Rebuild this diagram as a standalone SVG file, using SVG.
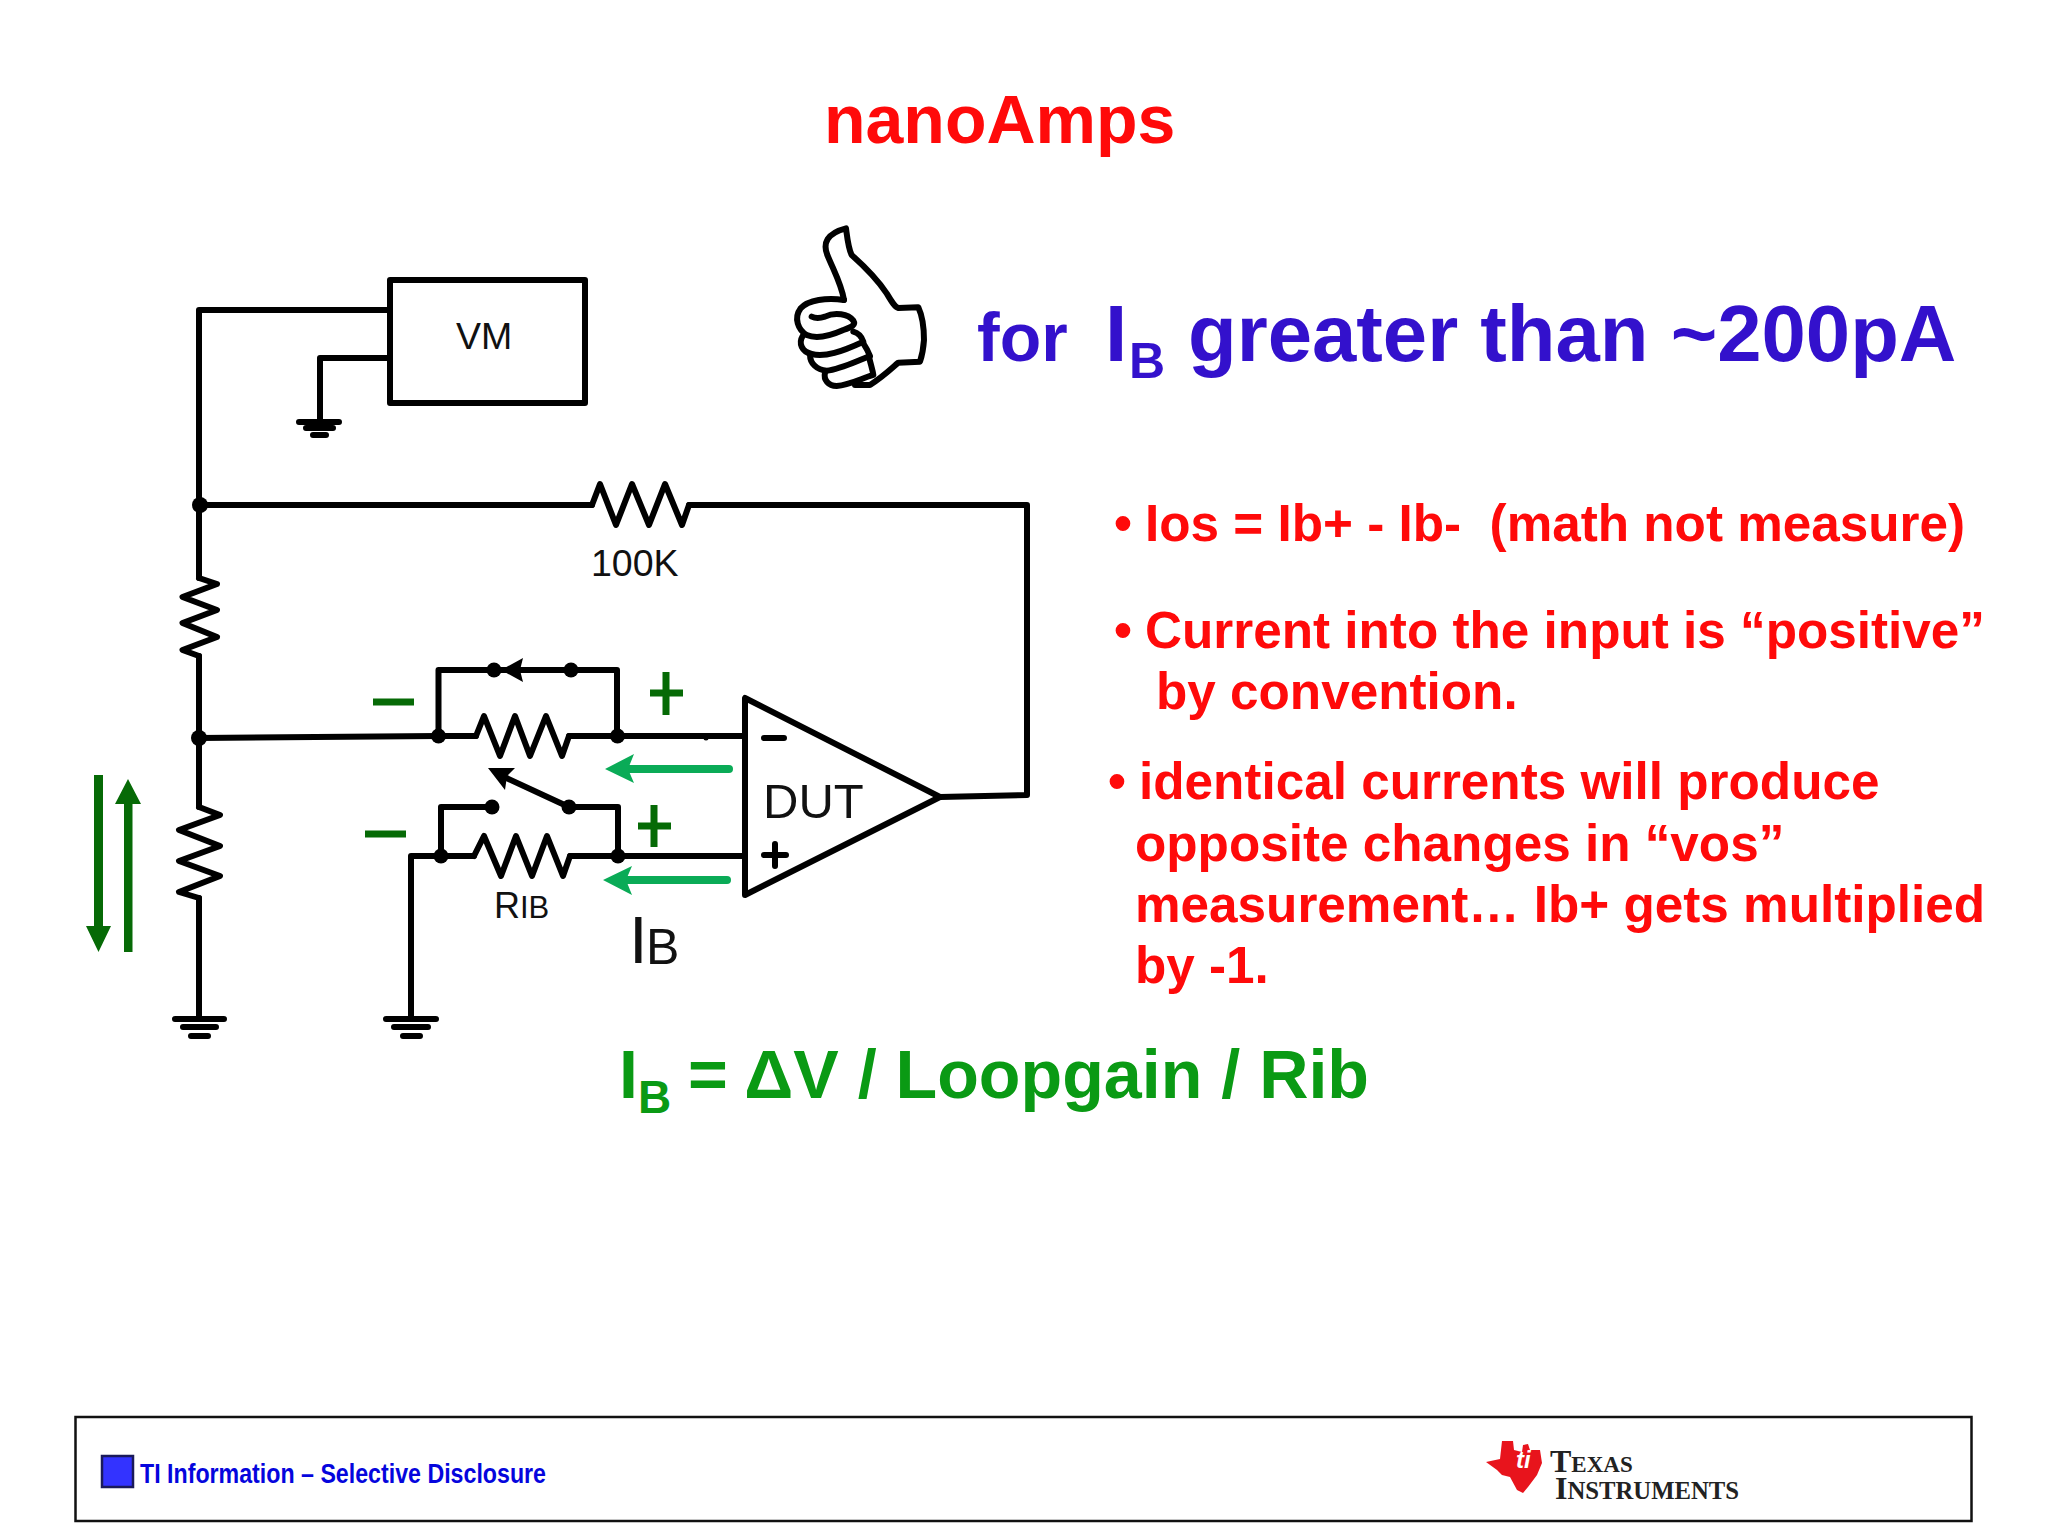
<svg xmlns="http://www.w3.org/2000/svg" width="2048" height="1536" viewBox="0 0 2048 1536">
<style>
.w{fill:none;stroke:#000;stroke-width:6;stroke-linejoin:round;stroke-linecap:round}
.g{fill:none;stroke:#000;stroke-width:6;stroke-linecap:round}
.d{fill:#000}
.dg{fill:none;stroke:#066a06;stroke-width:7}
.ga{fill:#0aab57;stroke:none}
.gl{fill:none;stroke:#0aab57;stroke-width:8;stroke-linecap:round}
.da{fill:#066a06}
text{font-family:"Liberation Sans",Arial,sans-serif}
.b{font-weight:bold}
.r{fill:#ff0a0a;font-size:51.250px;font-weight:bold;white-space:pre}
.bl{fill:#3311cc;font-weight:bold}
.gr{fill:#0a9a14;font-weight:bold}
.k{fill:#111}
.s{font-family:"Liberation Serif","Times New Roman",serif;fill:#222;font-weight:bold}
</style>
<rect width="2048" height="1536" fill="#fff"/>
<g id="title"><text class="b" x="824" y="143" font-size="68" fill="#ff0a0a">nanoAmps</text></g>
<g id="thumb" transform="translate(770 210) scale(.3333)" fill="none" stroke="#000" stroke-width="18" stroke-linejoin="round" stroke-linecap="round">
<path d="M222 270C215 225 195 190 172 135C158 100 170 70 228 55C232 85 235 115 245 135C290 175 330 220 350 250C365 275 375 292 385 294L445 292C458 320 462 360 462 390C460 420 455 440 450 455L385 458C365 475 340 500 300 525L255 525"/>
<path d="M222 270C170 262 115 270 92 295C70 325 85 360 110 375C140 388 175 380 220 360C245 352 258 345 250 332C235 312 195 305 165 320C150 325 135 325 125 320"/>
<path d="M98 378C85 400 95 425 125 432C165 442 215 425 280 395C275 380 268 370 250 365"/>
<path d="M120 435C120 460 140 480 170 482C210 478 255 455 300 438C295 425 290 415 280 400"/>
<path d="M165 488C160 510 175 528 200 528C240 525 275 505 310 495C308 480 304 470 298 445"/>
</g>
<g id="heading">
<text class="bl" x="977" y="361" font-size="68">for</text>
<text class="bl" x="1105" y="361" font-size="80">I</text>
<text class="bl" x="1129" y="378" font-size="50">B</text>
<text class="bl" x="1188" y="361" font-size="79.700">greater than ~200pA</text>
</g>
<g id="connectors">
<path class="w" d="M390 310H199V578"/>
<path class="w" d="M199 656V807"/>
<path class="w" d="M199 898V1019"/>
<path class="w" d="M390 358H320V422"/>
<path class="w" d="M199 505H592"/>
<path class="w" d="M689 505H1027V795L940 797"/>
<path class="w" d="M199 738L438 736H476"/>
<path class="w" d="M438.500 736V670H617V736"/>
<path class="w" d="M569 736H745"/>
<path class="w" d="M411 1019V856H474"/>
<path class="w" d="M441 856V807H492"/>
<path class="w" d="M569 807H618V856"/>
<path class="w" d="M570 856H745"/>
<path class="w" d="M569 807L500 775"/>
</g>
<g id="resistor-100k"><polyline class="w" points="592,505 600,484 616,525 632,484 649,525 665,484 682,525 689,505"/><text class="k" x="591" y="576" font-size="37.500">100K</text></g>
<g id="resistor-upper"><polyline class="w" points="199,578 217,584 182.500,597 217,610 182.500,623 217,637 182.500,650 199,656"/></g>
<g id="resistor-lower"><polyline class="w" points="199,807 220,815 179,830 220,846 179,861 220,876 179,892 199,898"/></g>
<g id="resistor-top"><polyline class="w" points="476,736 484,716 500,756 515,716 530,756 546,716 562,756 569,736"/></g>
<g id="resistor-rib"><polyline class="w" points="474,856 484,836 501,876 516,836 532,876 547,836 563,876 570,856"/>
<text class="k" x="494" y="918" font-size="36">R<tspan font-size="31">IB</tspan></text></g>
<g id="junctions">
<circle class="d" cx="200" cy="505" r="8"/><circle class="d" cx="199" cy="738" r="8"/>
<circle class="d" cx="438.500" cy="736" r="7.500"/><circle class="d" cx="617.500" cy="736" r="7.500"/>
<circle class="d" cx="441" cy="856" r="7.500"/><circle class="d" cx="618" cy="856" r="7.500"/>
<circle class="d" cx="494" cy="670" r="7.500"/><circle class="d" cx="571" cy="670" r="7.500"/>
<circle class="d" cx="492" cy="807" r="7.500"/><circle class="d" cx="569" cy="807" r="7.500"/>
<circle class="d" cx="706" cy="738" r="2.500"/>
<polygon class="d" points="501,670 523,658 520,670 523,682"/>
<polygon class="d" points="488,768 515,768 507,776 505,790"/>
</g>
<g id="vm"><rect class="w" x="390" y="280" width="195" height="123"/><text class="k" x="456" y="349" font-size="37.500">VM</text></g>
<g id="ground-vm"><path class="g" d="M299 422H339M306 428H333M313 435H326"/></g>
<g id="ground-left"><path class="g" d="M175 1019H224M183 1027H216M191 1036H208"/></g>
<g id="ground-right"><path class="g" d="M386 1019H436M394 1027H428M403 1036H420"/></g>
<g id="dut"><polygon class="w" points="745,698 745,895 940,797"/>
<path class="w" d="M764 738H784M764 855H786M775 844V866"/>
<text class="k" x="763" y="818" font-size="49">DUT</text></g>
<g id="polarity">
<path class="dg" d="M373 702H414M365 834H406"/>
<path class="dg" d="M650 693H683M666 672V715M638 826H671M654 805V847"/>
</g>
<g id="current-arrows">
<path class="gl" d="M625 769H729"/><polygon class="ga" points="605,769 634,754 628,769 634,783"/>
<path class="gl" d="M623 880H727"/><polygon class="ga" points="603,880 632,866 626,880 632,895"/>
<polygon class="da" points="94,775 103,775 103,926 111,926 98.500,952 86,926 94,926"/>
<polygon class="da" points="124,952 132.500,952 132.500,804 141,804 128,779 115,804 124,804"/>
</g>
<g id="ib-label"><text class="k" x="629" y="963" font-size="67">I</text><text class="k" x="646" y="964" font-size="50">B</text></g>
<g id="notes">
<text class="r" x="1114" y="541">•</text><text class="r" x="1145" y="541">Ios = Ib+ - Ib-  (math not measure)</text>
<text class="r" x="1114" y="648">•</text><text class="r" x="1145" y="648">Current into the input is “positive”</text>
<text class="r" x="1156" y="709">by convention.</text>
<text class="r" x="1108" y="799">•</text><text class="r" x="1139" y="799">identical currents will produce</text>
<text class="r" x="1135" y="861">opposite changes in “vos”</text>
<text class="r" x="1135" y="922">measurement… Ib+ gets multiplied</text>
<text class="r" x="1135" y="983">by -1.</text>
</g>
<g id="formula">
<text class="gr" x="619" y="1098" font-size="68">I</text><text class="gr" x="638" y="1113" font-size="46">B</text>
<text class="gr" x="688" y="1098" font-size="68.200">= ΔV / Loopgain / Rib</text>
</g>
<g id="footer">
<rect x="75.500" y="1417" width="1896" height="104" fill="none" stroke="#111" stroke-width="2.500"/>
<rect x="102" y="1456" width="31" height="31" fill="#3333ff" stroke="#1a1a5a" stroke-width="2.500"/>
<text class="b" x="140" y="1483" font-size="28" fill="#0505dd" textLength="406" lengthAdjust="spacingAndGlyphs">TI Information – Selective Disclosure</text>
<polygon fill="#e8141c" points="1502,1441 1513,1441 1514,1450 1522,1452 1523,1445 1528,1444 1530,1450 1540,1450 1542,1463 1537,1475 1528,1487 1523,1493 1517,1490 1510,1477 1502,1475 1497,1470 1486,1462 1500,1459"/>
<text x="1516" y="1468" font-size="24" font-weight="bold" font-style="italic" fill="#fff">ti</text>
<text class="s" font-size="32"><tspan x="1550" y="1472">T</tspan><tspan font-size="23">EXAS</tspan><tspan x="1555" y="1499">I</tspan><tspan font-size="24.700">NSTRUMENTS</tspan></text>
</g>
</svg>
